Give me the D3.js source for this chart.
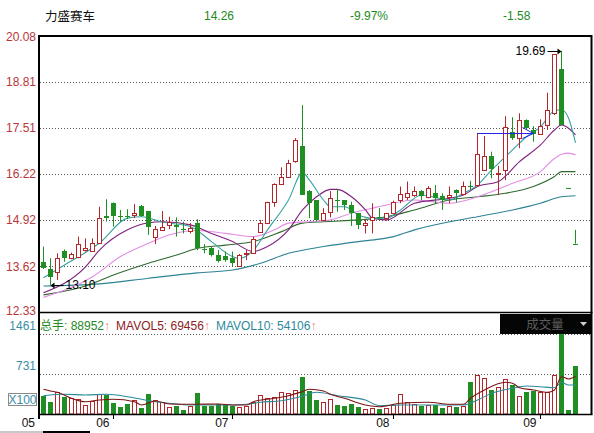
<!DOCTYPE html>
<html><head><meta charset="utf-8">
<script src="https://cdn.jsdelivr.net/npm/d3@7"></script>
<style>body{margin:0;background:#fff}svg{display:block}</style>
</head><body><div id="c"></div>
<script>
// ---------- DATA ----------
const stockName = "力盛赛车";
const headerValues = ["14.26", "-9.97%", "-1.58"];
const open = [13.75,13.54,13.47,14.06,13.85,13.88,14.08,14.06,14.27,15.05,
  15.40,15.05,15.05,15.07,15.32,15.18,14.46,14.65,14.79,14.79,
  14.67,14.63,14.84,14.11,14.13,13.94,13.92,13.85,13.64,13.97,
  14.01,14.60,14.85,15.44,15.94,16.13,16.59,17.01,15.74,15.49,
  14.93,15.16,15.50,15.49,15.35,15.12,14.80,14.93,15.02,14.98,
  15.13,15.49,15.58,15.63,15.74,15.58,15.70,15.61,15.57,15.77,
  15.65,15.89,15.91,16.33,16.73,16.22,16.33,17.41,17.23,17.74,
  17.46,17.35,17.60,17.93,19.17,15.84,14.26];
const high = [14.18,13.85,13.99,14.10,14.01,14.46,14.41,14.41,15.30,15.51,
  15.42,15.21,15.23,15.38,15.35,15.18,14.76,15.18,15.02,15.00,
  14.88,14.84,14.95,14.25,14.18,14.08,14.04,14.04,13.97,14.08,
  14.46,14.93,15.44,15.96,16.41,16.62,17.23,18.16,15.77,15.49,
  15.26,15.74,15.79,15.49,15.44,15.13,14.95,15.40,15.26,15.13,
  15.47,15.87,16.01,15.87,15.77,15.88,15.91,15.68,15.87,15.79,
  16.01,16.03,17.38,17.29,16.85,16.45,17.85,17.82,17.93,17.76,
  17.57,17.76,18.51,19.60,19.69,15.84,14.65];
const low = [13.55,13.10,13.24,13.75,13.82,13.85,14.04,14.04,14.25,14.88,
  14.74,14.88,14.95,14.98,15.02,14.51,14.25,14.63,14.67,14.46,
  14.55,14.55,14.08,13.99,13.90,13.73,13.75,13.61,13.62,13.80,
  13.99,14.57,14.84,15.30,15.91,16.13,16.54,15.63,14.98,14.88,
  14.91,15.00,15.16,15.21,14.76,14.67,14.55,14.55,14.93,14.91,
  15.12,15.40,15.49,15.58,15.49,15.54,15.40,15.21,15.40,15.42,
  15.63,15.77,15.87,16.32,16.10,15.63,16.05,17.18,16.95,17.46,
  17.13,17.32,17.46,17.88,17.60,15.84,14.26];
const close = [13.57,13.33,13.85,13.85,13.97,14.24,14.13,14.27,14.98,14.98,
  15.04,15.03,15.04,15.13,15.04,14.74,14.67,14.74,14.88,14.74,
  14.65,14.69,14.15,14.08,13.94,13.78,13.80,13.73,13.94,14.01,
  14.39,14.85,15.43,15.93,16.13,16.52,17.18,15.63,15.40,14.93,
  15.13,15.54,15.48,15.35,15.13,14.79,14.84,15.02,15.00,15.12,
  15.44,15.66,15.70,15.74,15.60,15.82,15.54,15.49,15.63,15.68,
  15.88,15.87,16.78,16.73,16.35,16.26,17.54,17.23,17.74,17.51,
  17.35,17.58,18.02,19.60,17.60,15.84,14.26];
// volume in units of 100 lots
const volume = [340,230,402,321,292,279,170,243,365,352,
  212,139,188,261,121,365,261,230,139,157,
  73,157,394,152,157,188,170,152,139,152,
  230,352,292,321,402,384,444,687,425,261,
  219,274,170,157,188,128,91,110,97,110,
  170,365,230,188,157,170,170,110,157,139,
  157,584,718,657,444,493,645,535,340,402,
  425,402,402,718,1480,78,890];

// moving-average lines: [day index, value]
const ma5 = [[0,13.30],[3,13.66],[8,14.28],[12,14.98],[14,15.02],[17,14.87],[21,14.74],[24,14.32],[27,13.90],[28,13.85],
  [30,14.08],[32,14.65],[35,15.49],[37,16.26],[38,16.05],[40,15.49],[41,15.30],[43,15.30],[45,15.07],[47,14.98],[49,14.98],
  [51,15.21],[54,15.63],[58,15.49],[60,15.68],[62,15.91],[64,16.33],[65,16.52],[67,16.90],[69,17.27],[71,17.55],
  [73,18.00],[74,18.03],[75,17.80],[76,17.10]];
const ma10 = [[0,12.88],[6,13.61],[8,14.08],[12,14.65],[15,14.85],[17,14.88],[21,14.79],[24,14.55],[27,14.32],[30,14.04],
  [32,14.18],[35,14.65],[37,15.21],[39,15.58],[41,15.79],[42,15.79],[44,15.58],[46,15.21],[47,14.98],[49,14.93],
  [53,15.40],[58,15.54],[60,15.63],[62,15.87],[65,16.01],[68,16.57],[71,17.04],[73,17.46],[74,17.60],[75,17.51],[76,17.32]];
const ma20 = [[0,12.75],[7,13.33],[11,13.90],[15,14.27],[18,14.51],[22,14.63],[26,14.55],[30,14.46],[33,14.65],[35,14.84],
  [38,14.88],[41,14.93],[44,15.12],[47,15.26],[49,15.35],[53,15.49],[58,15.40],[62,15.58],[67,15.96],[71,16.29],
  [73,16.66],[74,16.78],[75,16.81],[76,16.76]];
const ma30 = [[0,12.82],[6,13.07],[10,13.38],[15,13.71],[19,13.94],[22,14.13],[26,14.22],[30,14.32],[34,14.60],[37,14.84],
  [40,14.88],[45,14.93],[48,14.98],[53,15.21],[58,15.49],[62,15.58],[66,15.68],[70,15.87],[73,16.15],[74,16.29],[76,16.29]];
const ma60 = [[0,13.07],[8,13.13],[15,13.29],[22,13.44],[27,13.52],[31,13.71],[35,13.99],[40,14.18],[45,14.32],[48,14.39],
  [50,14.46],[53,14.65],[58,14.88],[62,15.02],[67,15.21],[71,15.40],[74,15.58],[76,15.61]];
const volMa5 = [[0,457],[1,425],[2,402],[4,292],[6,230],[8,261],[10,274],[13,230],[14,170],[16,243],[18,188],[21,183],
  [25,188],[27,170],[29,170],[30,230],[33,292],[35,340],[37,415],[38,457],[40,425],[41,365],[43,292],[46,170],[48,139],
  [51,201],[55,219],[58,183],[60,183],[61,292],[63,444],[66,584],[67,566],[68,486],[70,444],[72,402],[73,444],
  [74,687],[75,645],[76,695]];
const volMa10 = [[0,340],[3,365],[6,352],[9,365],[12,321],[14,274],[16,230],[18,201],[21,170],[27,170],[29,183],[31,219],
  [34,248],[37,330],[39,402],[42,340],[46,261],[48,157],[51,170],[56,170],[60,170],[62,261],[64,383],[67,475],
  [69,517],[71,504],[73,486],[74,584],[75,535],[76,541]];

const priceTicks = [20.08, 18.81, 17.51, 16.22, 14.92, 13.62, 12.33];
const volTicks = [1461, 731];
const monthLabels = ["05", "06", "07", "08", "09"];
const monthStartIdx = [null, 10, 27, 50, 71];
const legendItems = [["总手: ", "88952"], ["MAVOL5: ", "69456"], ["MAVOL10: ", "54106"]];
const maxMark = {idx: 74, label: "19.69"};
const minMark = {idx: 1, label: "13.10"};
const drawnLine = {from: 62, to: 70, price: 17.38};

// ---------- DRAW ----------
const W = 594, H = 433;
const RED = "#b5262a", GREEN = "#1f8f24";
const svg = d3.select("#c").append("svg").attr("width", W).attr("height", H)
  .style("font-family", "'Liberation Sans', Arial, 'Noto Sans CJK SC', sans-serif");
const n = close.length;
const x = d3.scaleLinear().domain([0, n - 1]).range([43.5, 575.5]);
const y = d3.scaleLinear().domain([12.33, 20.08]).range([312.3, 36.9]);
const yv = d3.scaleLinear().domain([0, 1461]).range([414.3, 334.3]);
const L = 39, R = 591.5;
const px = v => Math.round(v) + 0.5;

// header
svg.append("text").attr("x", 45).attr("y", 21).attr("font-size", 12.5)
  .attr("font-family", "'Noto Sans CJK SC', sans-serif").attr("fill", "#111").text(stockName);
[204, 350, 503].forEach((hx, k) => svg.append("text").attr("x", hx).attr("y", 20)
  .attr("font-size", 12).attr("fill", "#218a21").text(headerValues[k]));

// grid
priceTicks.slice(1, -1).forEach(t => svg.append("line").attr("x1", L + 1).attr("x2", R)
  .attr("y1", px(y(t))).attr("y2", px(y(t))).attr("stroke", "#555").attr("stroke-dasharray", "1,2"));
volTicks.forEach(t => svg.append("line").attr("x1", L + 1).attr("x2", R)
  .attr("y1", px(yv(t))).attr("y2", px(yv(t))).attr("stroke", "#555").attr("stroke-dasharray", "1,2"));

// price axis labels
priceTicks.forEach((t, k) => svg.append("text").attr("x", 36).attr("y", y(t) + (k === priceTicks.length - 1 ? -2 : 0))
  .attr("dy", "0.35em").attr("text-anchor", "end").attr("font-size", 12).attr("fill", "#b8363a").text(t.toFixed(2)));
volTicks.forEach(t => svg.append("text").attr("x", 36).attr("y", yv(t) - 4)
  .attr("text-anchor", "end").attr("font-size", 12).attr("fill", "#3a8ea3").text(t));
svg.append("rect").attr("x", 8.5).attr("y", 393.5).attr("width", 28).attr("height", 12)
  .attr("fill", "none").attr("stroke", "#8a8a8a");
svg.append("text").attr("x", 22.5).attr("y", 404).attr("text-anchor", "middle").attr("font-size", 12)
  .attr("fill", "#3a8ea3").text("X100");

const isUp = i => close[i] > open[i] || (close[i] === open[i] && i > 0 && close[i] > close[i - 1]);

// MA lines (price)
const lp = d3.line().x(d => x(d[0])).y(d => y(d[1])).curve(d3.curveMonotoneX);
[[ma60, "#2b8394"], [ma30, "#2f6a2f"], [ma20, "#e38de3"], [ma10, "#7d1f7d"], [ma5, "#34a2a2"]].forEach(([d, c]) =>
  svg.append("path").attr("d", lp(d)).attr("fill", "none").attr("stroke", c).attr("stroke-width", 1.1));

// candles
const cg = svg.append("g");
d3.range(n).forEach(i => {
  const cx = x(i);
  const yo = y(open[i]), yc = y(close[i]), yh = y(high[i]), yl = y(low[i]);
  if (isUp(i)) {
    const top = px(yc), bot = Math.max(px(yo), top + 1);
    cg.append("line").attr("x1", cx).attr("x2", cx).attr("y1", yh).attr("y2", top).attr("stroke", RED);
    cg.append("line").attr("x1", cx).attr("x2", cx).attr("y1", bot).attr("y2", yl).attr("stroke", RED);
    cg.append("rect").attr("x", cx - 2).attr("y", top).attr("width", 4).attr("height", bot - top)
      .attr("fill", "#fff").attr("stroke", RED);
  } else {
    cg.append("line").attr("x1", cx).attr("x2", cx).attr("y1", yh).attr("y2", yl).attr("stroke", GREEN);
    const top = Math.round(yo), h = Math.max(Math.round(yc) - top, 1);
    cg.append("rect").attr("x", cx - 2.5).attr("y", top).attr("width", 5).attr("height", h).attr("fill", GREEN);
  }
});

// annotations
const hx = x(maxMark.idx), hy = y(high[maxMark.idx]);
svg.append("line").attr("x1", hx - 14).attr("x2", hx - 2).attr("y1", Math.round(hy) + 0.5).attr("y2", Math.round(hy) + 0.5).attr("stroke", "#000");
svg.append("path").attr("d", `M${hx},${Math.round(hy) + 0.5}l-4,-3v6z`).attr("fill", "#000");
svg.append("text").attr("x", hx - 16).attr("y", hy).attr("dy", "0.35em").attr("text-anchor", "end")
  .attr("font-size", 12).attr("fill", "#000").text(maxMark.label);
const lx = x(minMark.idx), ly = y(low[minMark.idx]);
svg.append("line").attr("x1", lx + 2).attr("x2", lx + 13).attr("y1", Math.round(ly) + 0.5).attr("y2", Math.round(ly) + 0.5).attr("stroke", "#000");
svg.append("path").attr("d", `M${lx},${Math.round(ly) + 0.5}l4,-3v6z`).attr("fill", "#000");
svg.append("text").attr("x", lx + 15).attr("y", ly).attr("dy", "0.35em")
  .attr("font-size", 12).attr("fill", "#000").text(minMark.label);
const bly = Math.round(y(drawnLine.price)) + 0.5, blx1 = x(drawnLine.from), blx2 = x(drawnLine.to);
svg.append("line").attr("x1", blx1).attr("x2", blx2).attr("y1", bly).attr("y2", bly).attr("stroke", "#2626e6");
svg.append("path").attr("d", `M${blx2 - 11},${bly - 6}L${blx2},${bly}L${blx2 - 11},${bly + 5}`)
  .attr("fill", "none").attr("stroke", "#2626e6");

// volume
const vg = svg.append("g");
d3.range(n).forEach(i => {
  const cx = x(i), top = Math.max(yv(volume[i]), 313), bot = 414;
  if (isUp(i)) {
    vg.append("rect").attr("x", cx - 2).attr("y", px(top)).attr("width", 4).attr("height", bot - px(top))
      .attr("fill", "#fff").attr("stroke", RED);
  } else {
    vg.append("rect").attr("x", cx - 2.5).attr("y", Math.round(top)).attr("width", 5).attr("height", bot - Math.round(top))
      .attr("fill", GREEN);
  }
});
const lv = d3.line().x(d => x(d[0])).y(d => yv(d[1])).curve(d3.curveMonotoneX);
[[volMa10, "#2b8a9a"], [volMa5, "#7a1515"]].forEach(([d, c]) =>
  svg.append("path").attr("d", lv(d)).attr("fill", "none").attr("stroke", c).attr("stroke-width", 1.1));

// legend
const leg = svg.append("text").attr("x", 40).attr("y", 329.5).attr("font-size", 12);
const legColors = ["#268a26", "#8e1c1c", "#2b8a9a"];
legendItems.forEach(([a, b], k) => {
  leg.append("tspan").attr("fill", legColors[k]).attr("dx", k ? 6 : 0).text(a + b);
  leg.append("tspan").attr("fill", "#f07878").attr("font-weight", "bold").text("↑");
});
svg.append("rect").attr("x", 500).attr("y", 314).attr("width", 91).attr("height", 20).attr("fill", "#050505");
svg.append("text").attr("x", 545).attr("y", 329).attr("text-anchor", "middle").attr("font-size", 12.5)
  .attr("font-family", "'Noto Sans CJK SC', sans-serif").attr("fill", "#5c5c5c").text("成交量");
svg.append("path").attr("d", "M580,322h7l-3.5,4z").attr("fill", "#d0d0d0");

// frame
svg.append("path").attr("d", `M${L},36H${R}V414.5`).attr("fill", "none").attr("stroke", "#000").attr("stroke-width", 2);
svg.append("line").attr("x1", L).attr("x2", L).attr("y1", 35).attr("y2", 419).attr("stroke", "#000").attr("stroke-width", 2);
svg.append("line").attr("x1", L).attr("x2", R + 1).attr("y1", 312.5).attr("y2", 312.5).attr("stroke", "#000").attr("stroke-width", 1.5);
svg.append("line").attr("x1", L).attr("x2", R + 1).attr("y1", 414.5).attr("y2", 414.5).attr("stroke", "#000").attr("stroke-width", 1.5);

// x axis months
monthLabels.forEach((m, k) => {
  const tx = monthStartIdx[k] === null ? L : Math.round(x(monthStartIdx[k])) - 0.5;
  if (monthStartIdx[k] !== null)
    svg.append("line").attr("x1", tx).attr("x2", tx).attr("y1", 414).attr("y2", 419).attr("stroke", "#000");
  svg.append("text").attr("x", tx - 4).attr("y", 427).attr("text-anchor", "end").attr("font-size", 12)
    .attr("fill", "#111").text(m);
});
svg.append("rect").attr("x", 0).attr("y", 431).attr("width", 43).attr("height", 2).attr("fill", "#c8c8c8");
svg.append("rect").attr("x", 43).attr("y", 431).attr("width", 47).attr("height", 2).attr("fill", "#000");
</script>
</body></html>
